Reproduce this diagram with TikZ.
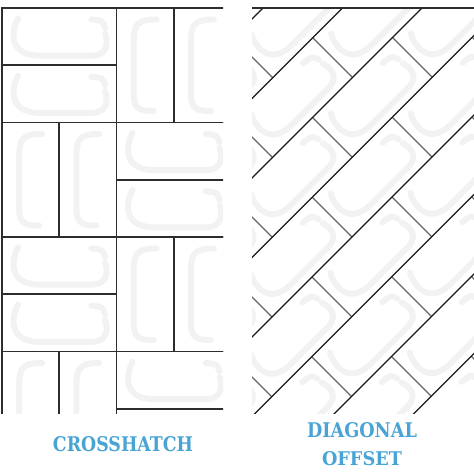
\documentclass[tikz,border=0pt]{standalone}
\usepackage{fontspec}
\usepackage{graphicx}
\newfontfamily\labelfont{DejaVu Serif}
\definecolor{labelblue}{RGB}{72,164,212}
\definecolor{groutline}{RGB}{45,45,45}
\definecolor{glaze}{RGB}{242,242,242}

% faint glaze marks: origin x, origin y, length, width
\newcommand{\ghostU}[4]{%
  \draw[ghost] ({#1+.14*#3},{#2+.18*#4}) .. controls ({#1+.08*#3},{#2+.4*#4}) and ({#1+.06*#3},{#2+.8*#4}) .. ({#1+.3*#3},{#2+.83*#4})
    -- ({#1+.8*#3},{#2+.83*#4}) .. controls ({#1+.92*#3},{#2+.81*#4}) and ({#1+.93*#3},{#2+.6*#4}) .. ({#1+.9*#3},{#2+.45*#4});
  \draw[ghost] ({#1+.78*#3},{#2+.2*#4}) .. controls ({#1+.88*#3},{#2+.22*#4}) .. ({#1+.9*#3},{#2+.35*#4});}
\newcommand{\ghostC}[4]{%
  \draw[ghost] ({#1+.7*#3},{#2+.1*#4}) .. controls ({#1+.35*#3},{#2+.1*#4}) and ({#1+.3*#3},{#2+.15*#4}) .. ({#1+.3*#3},{#2+.3*#4})
    -- ({#1+.3*#3},{#2+.75*#4}) .. controls ({#1+.3*#3},{#2+.88*#4}) and ({#1+.4*#3},{#2+.9*#4}) .. ({#1+.65*#3},{#2+.9*#4});}

\begin{document}
\begin{tikzpicture}
[x=1pt,y=-1pt,
  grout/.style={draw=groutline,line width=1.6pt},
  seam/.style={draw=black!90,line width=1.3pt},
  joint/.style={draw=black!60,line width=1.3pt},
  ghost/.style={draw=glaze,line width=6pt,line cap=round},
  tagtext/.style={text=labelblue,inner sep=0pt}]
\useasboundingbox (0,0) rectangle (474,474);

% crosshatch
\begin{scope}
\clip (1,7) rectangle (223,413);
\foreach \r in {0,...,3}
  \foreach \c in {0,1} {
    \pgfmathsetmacro{\bx}{2+114.5*\c}
    \pgfmathsetmacro{\by}{8+114.5*\r}
    \pgfmathtruncatemacro{\kind}{mod(\r+\c,2)}
    \ifnum\kind=0
      \ghostU{\bx}{\by}{114.5}{57.25}
      \ghostU{\bx}{\by+57.25}{114.5}{57.25}
      \draw[grout] (\bx,\by+57.25) -- (\bx+114.5,\by+57.25);
    \else
      \ghostC{\bx}{\by}{57.25}{114.5}
      \ghostC{\bx+57.25}{\by}{57.25}{114.5}
      \draw[grout] (\bx+57.25,\by) -- (\bx+57.25,\by+114.5);
    \fi
    \draw[grout] (\bx,\by) rectangle ++(114.5,114.5);
  }
\end{scope}

% diagonal offset
\begin{scope}
\clip (252,7.3) rectangle (474,413);
\begin{scope}[x={(0.5pt,0.5pt)},y={(0.5pt,-0.5pt)}]
\foreach \k in {-1,...,8} {
  \pgfmathsetmacro{\qa}{271+79.5*\k}
  \pgfmathsetmacro{\pb}{mod(195+80*\k,160)}
  \foreach \n in {-3,...,3} {
    \pgfmathsetmacro{\pa}{\pb+160*\n}
    \ghostU{\pa}{\qa}{160}{79.5}
    \draw[joint] (\pa,\qa) -- (\pa,\qa+79.5);
  }
}
\foreach \k in {0,...,8}
  \draw[seam] (-600,{271+79.5*\k}) -- (800,{271+79.5*\k});
\end{scope}
\end{scope}
\draw[grout] (252,8) -- (474,8);

% captions
\node[tagtext] (crosshatch) at (123,444.5) {\resizebox{140pt}{15pt}{\labelfont\bfseries CROSSHATCH}};
\node[tagtext] (diagonal) at (362,430.5) {\resizebox{110pt}{15pt}{\labelfont\bfseries DIAGONAL}};
\node[tagtext] (offset) at (362,459) {\resizebox{80pt}{14pt}{\labelfont\bfseries OFFSET}};
\end{tikzpicture}
\end{document}
